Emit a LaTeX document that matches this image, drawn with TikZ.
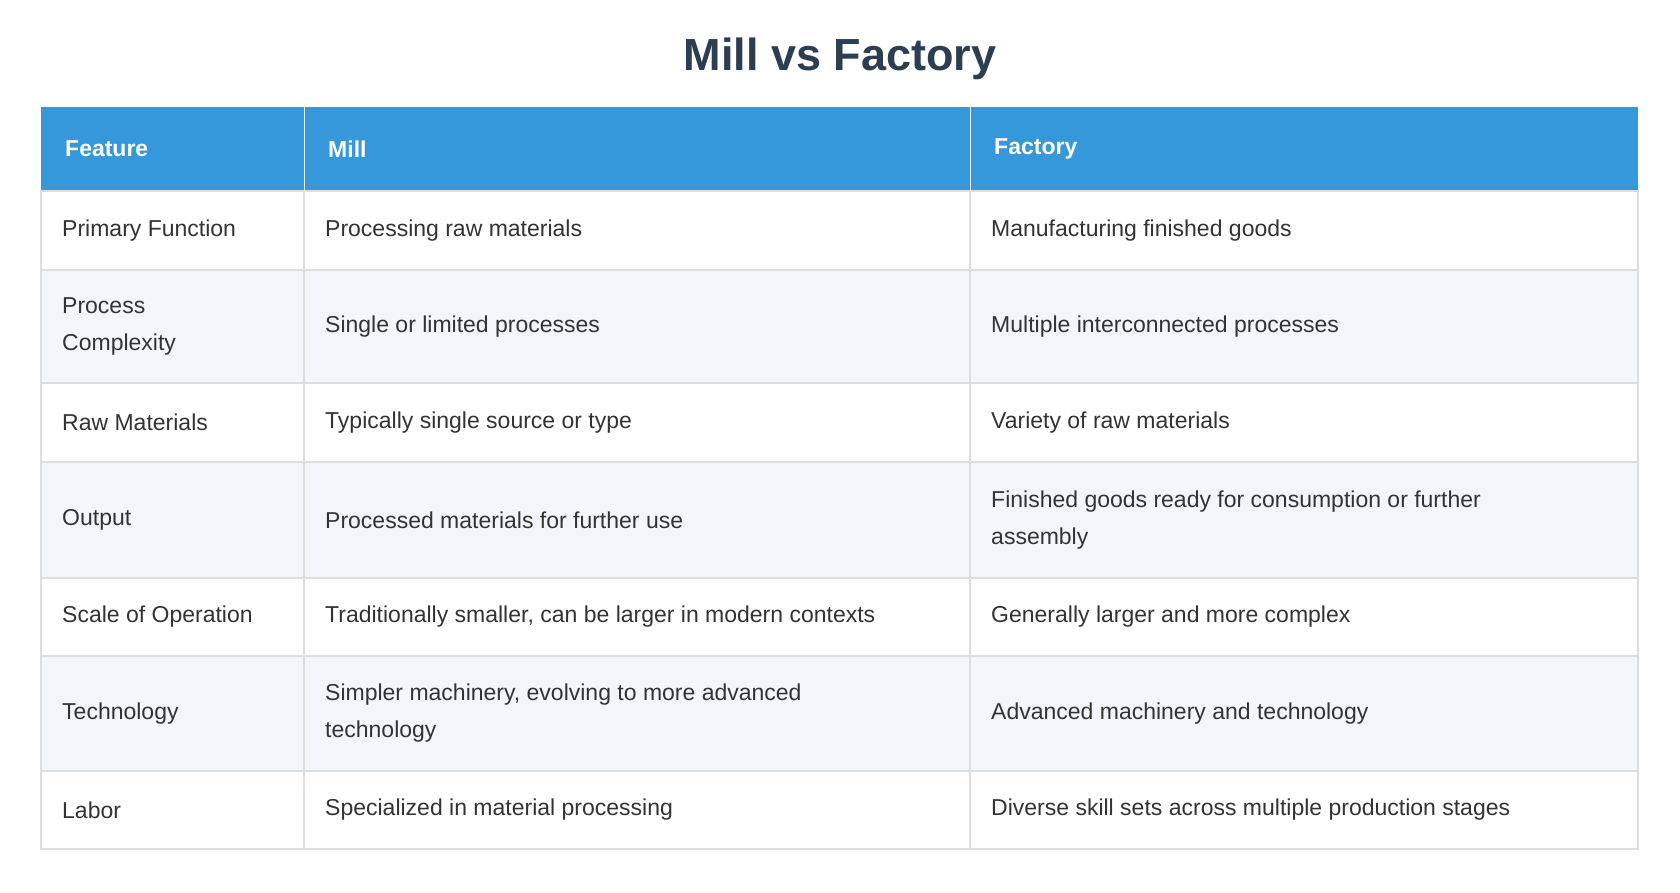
\documentclass[tikz,border=0pt]{standalone}
\usepackage{fontspec}
\setmainfont{Liberation Sans}
\definecolor{titlec}{HTML}{2C3E50}
\definecolor{headc}{HTML}{3498DB}
\definecolor{altc}{HTML}{F2F5F9}
\definecolor{linec}{HTML}{DDDDDD}
\definecolor{txtc}{HTML}{333333}
\begin{document}
\begin{tikzpicture}[x=1pt,y=-1pt,
  cell/.style={anchor=west,text=txtc,font=\fontsize{23}{37}\selectfont,align=left,inner sep=0pt},
  hcell/.style={anchor=west,text=white,font=\fontsize{23}{28}\selectfont\bfseries,inner sep=0pt}]
\useasboundingbox (0,0) rectangle (1680,892);
\fill[white] (0,0) rectangle (1680,892);
\node[font=\fontsize{45}{50}\selectfont\bfseries,text=titlec] (title) at (840,59) {Mill vs Factory};
\fill[headc] (41,107) rectangle (1638,191);
\def\ys{{191,270,383,462,578,656,771,849}}
\foreach \i in {1,3,5}{
  \pgfmathsetmacro\ya{\ys[\i]}\pgfmathsetmacro\yb{\ys[\i+1]}
  \fill[altc] (41,\ya) rectangle (1638,\yb);}
\foreach \i in {1,...,6}{
  \pgfmathsetmacro\ya{\ys[\i]}
  \draw[linec,line width=2.5pt] (41,\ya) -- (1638,\ya);}
\draw[linec,line width=2pt] (41,191) rectangle (1638,849);
\draw[linec,line width=2.5pt] (304,191) -- (304,849);
\draw[linec,line width=2.5pt] (970,191) -- (970,849);
\draw[white!85!headc,line width=1pt] (304,107) -- (304,191) (970,107) -- (970,191);
\node[hcell] (h1) at (65,149) {Feature};
\node[hcell] (h2) at (328,149) {Mill};
\node[hcell] (h3) at (994,149) {Factory};
\foreach \n/\y/\a/\b/\c in {
 r1/230.5/{Primary Function}/{Processing raw materials}/{Manufacturing finished goods},
 r2/326.5/{Process\\Complexity}/{Single or limited processes}/{Multiple interconnected processes},
 r3/422.5/{Raw Materials}/{Typically single source or type}/{Variety of raw materials},
 r4/520/{Output}/{Processed materials for further use}/{Finished goods ready for consumption or further\\assembly},
 r5/617/{Scale of Operation}/{Traditionally smaller, can be larger in modern contexts}/{Generally larger and more complex},
 r6/713.5/{Technology}/{Simpler machinery, evolving to more advanced\\technology}/{Advanced machinery and technology},
 r7/810/{Labor}/{Specialized in material processing}/{Diverse skill sets across multiple production stages}}{
  \node[cell] (\n a) at (62,\y) {\a};
  \node[cell] (\n b) at (325,\y) {\b};
  \node[cell] (\n c) at (991,\y) {\c};
}
\end{tikzpicture}
\end{document}
